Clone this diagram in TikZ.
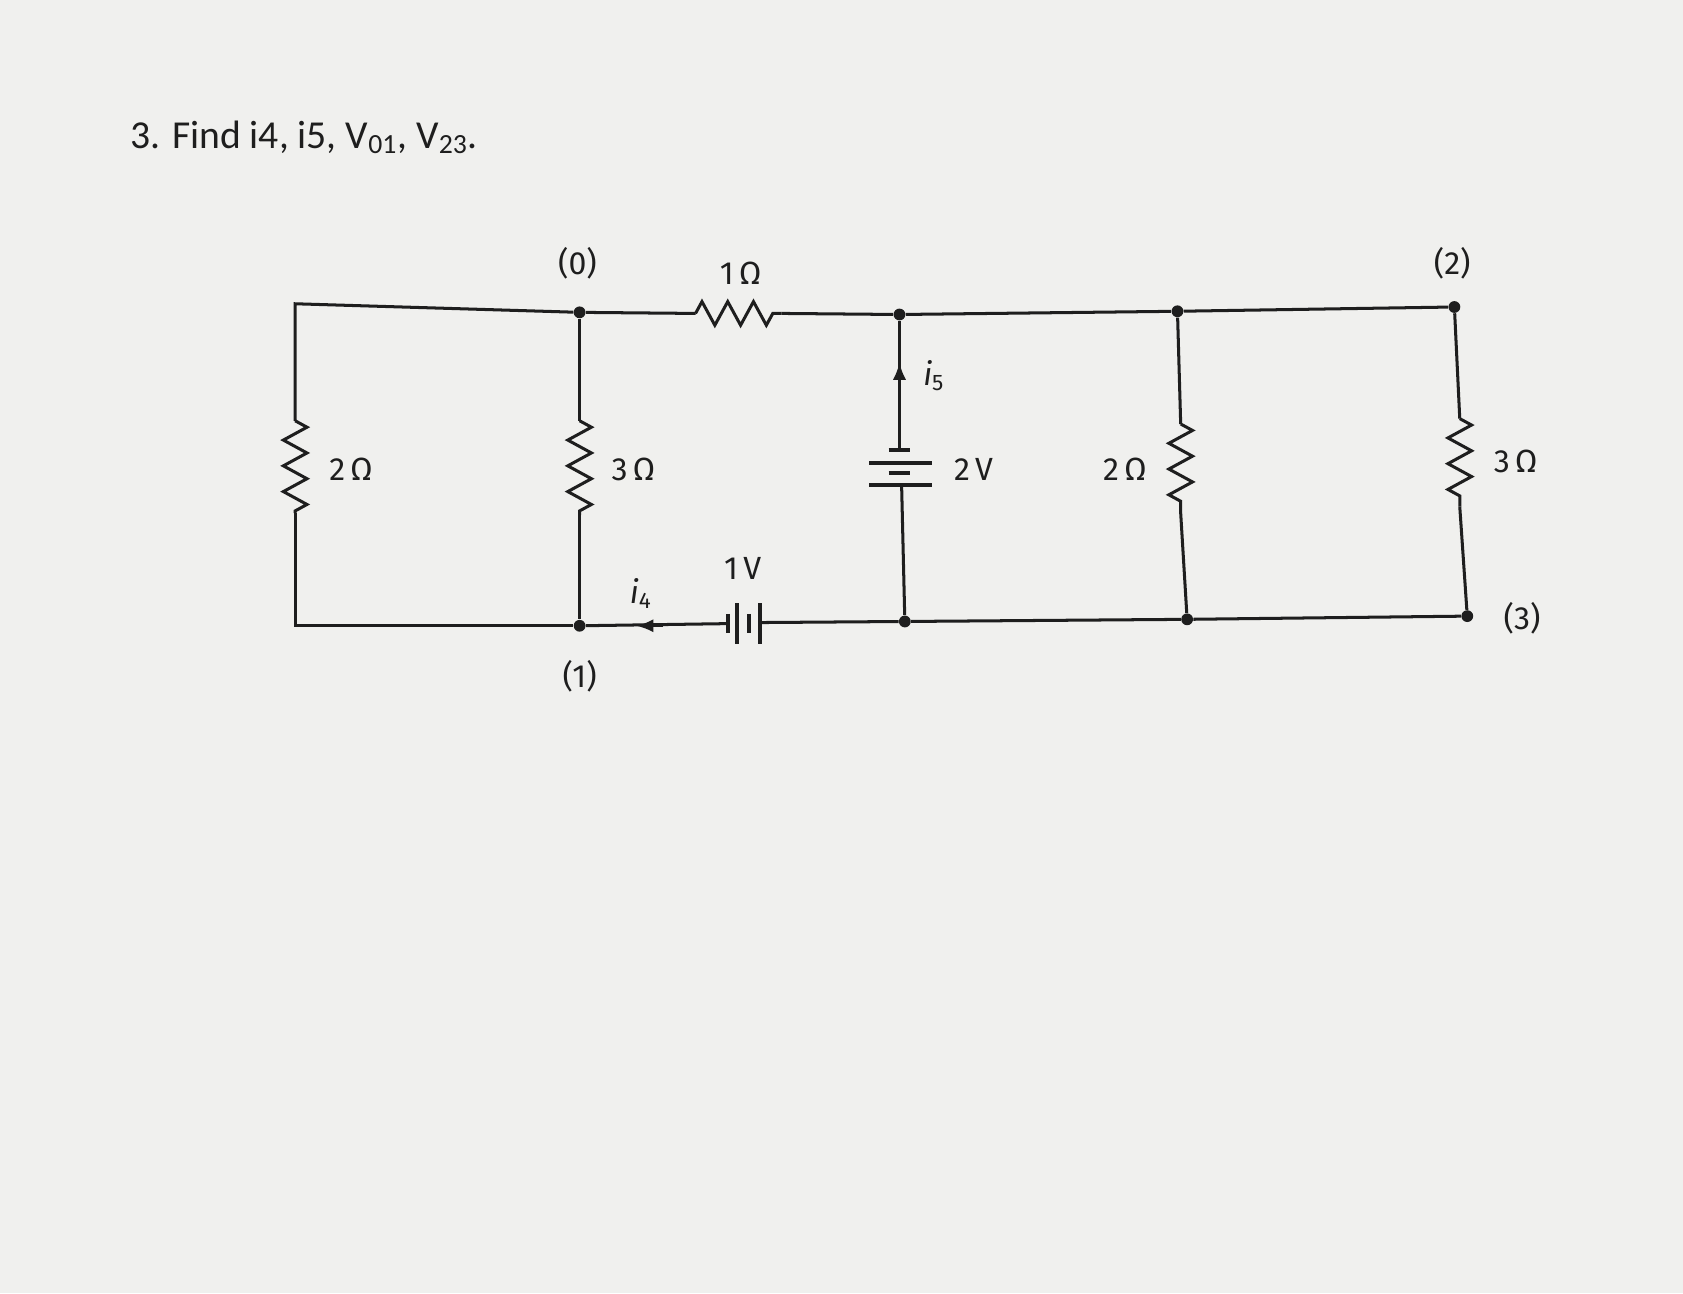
\documentclass[tikz,border=0pt]{standalone}
\usepackage{fontspec}
\setmainfont{Fira Sans}
\newfontfamily\titlefont{Carlito}
\usetikzlibrary{decorations.pathmorphing,arrows.meta}
\definecolor{paper}{RGB}{240,240,238}
\definecolor{ink}{RGB}{30,30,30}
\tikzset{
  wire/.style={draw=ink,line width=1.6pt},
  res/.style={wire,decorate,decoration={zigzag,segment length=0.48cm,amplitude=0.22cm}},
  dot/.style={circle,fill=ink,inner sep=0pt,minimum size=0.22cm},
  lbl/.style={font=\fontsize{17}{20}\selectfont,text=ink},
  plate/.style={draw=ink,line width=2.2pt},
}
\begin{document}
\begin{tikzpicture}[x=0.02cm,y=-0.02cm]
\fill[paper] (0,0) rectangle (1568,1205);
\useasboundingbox (0,0) rectangle (1568,1205);
\node[anchor=west,font=\titlefont\fontsize{21}{24}\selectfont,text=ink] (title) at (115,128) {3. Find i4, i5, V\textsubscript{01}, V\textsubscript{23}.};
\coordinate (tl) at (275,283); \coordinate (bl) at (275,583);
\node[dot] (n0) at (540,291) {}; \node[dot] (n1) at (540,583) {};
\node[dot] (tm) at (838,293) {}; \node[dot] (bm) at (843,579) {};
\node[dot] (tr) at (1097,290) {}; \node[dot] (br) at (1106,577) {};
\node[dot] (n2) at (1355,286) {}; \node[dot] (n3) at (1367,574) {};
\coordinate (la) at (275,392); \coordinate (lb) at (275,478);
\draw[wire] (n0) -- (tl) -- (la); \draw[res] (la) -- (lb); \draw[wire] (lb) -- (bl) -- (n1);
\coordinate (ma) at (540,392); \coordinate (mb) at (540,480);
\draw[wire] (n0) -- (ma); \draw[res] (ma) -- (mb); \draw[wire] (mb) -- (n1);
\coordinate (ra) at (648,292); \coordinate (rb) at (728,292);
\draw[wire] (n0) -- (ra); \draw[res] (ra) -- (rb); \draw[wire] (rb) -- (tm);
\draw[wire] (tm) -- (tr) -- (n2);
\coordinate (ba) at (838,419); \coordinate (bb) at (840,452);
\draw[wire] (tm) -- (ba);
\draw[plate] (828,419) -- (848,419);
\draw[plate] (810,431) -- (868,431);
\draw[plate] (828,441) -- (848,441);
\draw[plate] (810,452) -- (868,452);
\draw[wire] (bb) -- (bm);
\draw[-{Latex[length=9pt,width=7pt]},draw=ink,line width=1.2pt] (838,362) -- (838,338);
\coordinate (sa) at (1100,395); \coordinate (sb) at (1100,478);
\draw[wire] (tr) -- (sa); \draw[res] (sa) -- (sb); \draw[wire] (sb) -- (br);
\coordinate (ta) at (1360,390); \coordinate (tb) at (1360,472);
\draw[wire] (n2) -- (ta); \draw[res] (ta) -- (tb); \draw[wire] (tb) -- (n3);
\draw[wire] (n3) -- (br) -- (bm) -- (708,580);
\draw[plate] (708,562) -- (708,600);
\draw[plate] (698,572) -- (698,590);
\draw[plate] (687,562) -- (687,600);
\draw[plate] (678,572) -- (678,590);
\draw[wire] (678,581) -- (n1);
\draw[-{Latex[length=9pt,width=7pt]},draw=ink,line width=1.2pt] (618,583) -- (593,583);
\node[lbl] (l1) at (327,437) {2\,Ω};
\node[lbl] (l2) at (590,437) {3\,Ω};
\node[lbl] (l3) at (690,255) {1\,Ω};
\node[lbl] (l4) at (907,437) {2\,V};
\node[lbl] (l5) at (1048,437) {2\,Ω};
\node[lbl] (l6) at (1412,430) {3\,Ω};
\node[lbl] (l7) at (692,530) {1\,V};
\node[lbl] (l8) at (538,245) {(0)};
\node[lbl] (l9) at (540,630) {(1)};
\node[lbl] (l10) at (1353,245) {(2)};
\node[lbl] (l11) at (1418,576) {(3)};
\node[lbl] (l12) at (870,350) {\textit{i}\textsubscript{5}};
\node[lbl] (l13) at (597,553) {\textit{i}\textsubscript{4}};
\end{tikzpicture}
\end{document}
